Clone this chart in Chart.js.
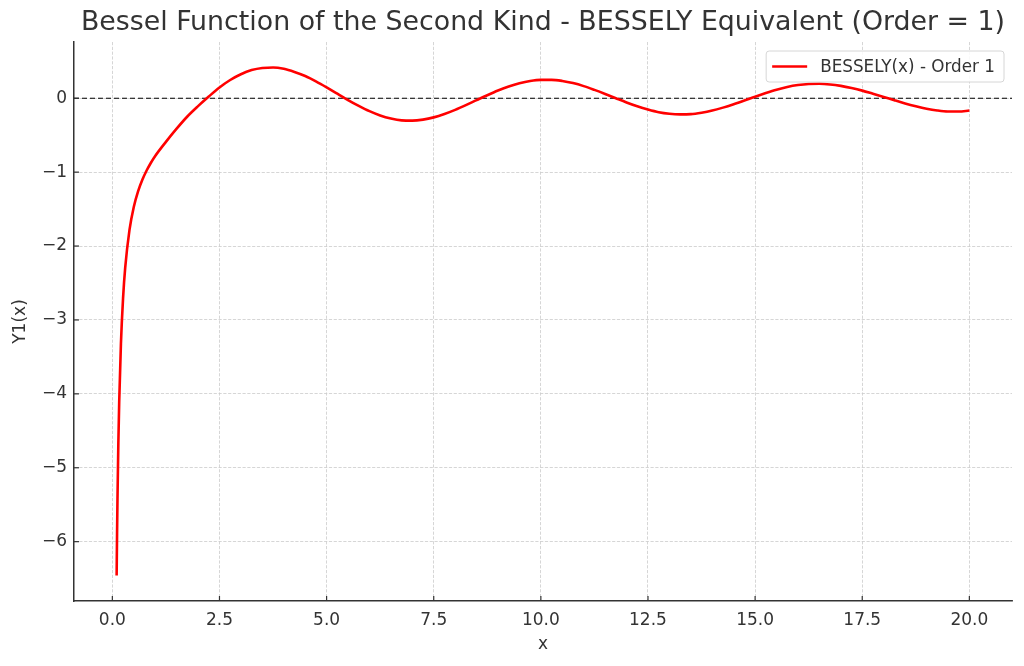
<!DOCTYPE html>
<html>
<head>
<meta charset="utf-8">
<script src="https://cdn.jsdelivr.net/npm/chart.js@4.4.1/dist/chart.umd.min.js"></script>
<style>
  html, body { margin: 0; padding: 0; background: #fff; }
  #wrap { width: 1024px; height: 666px; }
</style>
</head>
<body>
<div id="wrap"><canvas id="myChart"></canvas></div>
<script>
// values
const xValues = [0.1, 0.11, 0.12, 0.14, 0.16, 0.2, 0.25, 0.3, 0.4, 0.5, 0.6, 0.7, 0.8, 0.9, 1.0,
  1.25, 1.5, 1.75, 2.0, 2.25, 2.5, 2.75, 3.0, 3.25, 3.5, 3.75, 4.0, 4.25, 4.5, 4.75,
  5.0, 5.25, 5.5, 5.75, 6.0, 6.25, 6.5, 6.75, 7.0, 7.25, 7.5, 7.75, 8.0, 8.25, 8.5, 8.75,
  9.0, 9.25, 9.5, 9.75, 10.0, 10.25, 10.5, 10.75, 11.0, 11.25, 11.5, 11.75, 12.0, 12.25,
  12.5, 12.75, 13.0, 13.25, 13.5, 13.75, 14.0, 14.25, 14.5, 14.75, 15.0, 15.25, 15.5,
  15.75, 16.0, 16.25, 16.5, 16.75, 17.0, 17.25, 17.5, 17.75, 18.0, 18.25, 18.5, 18.75,
  19.0, 19.25, 19.5, 19.75, 20.0];
const y1Values = [-6.459, -5.889, -5.412, -4.666, -4.108, -3.324, -2.704, -2.293, -1.781, -1.471, -1.260, -1.103, -0.978, -0.873, -0.781,
  -0.590, -0.412, -0.247, -0.107, 0.023, 0.146, 0.247, 0.325, 0.381, 0.410, 0.416, 0.398, 0.356, 0.301, 0.229,
  0.148, 0.062, -0.024, -0.103, -0.175, -0.233, -0.274, -0.299, -0.303, -0.289, -0.259, -0.214, -0.158, -0.094, -0.026, 0.041,
  0.104, 0.159, 0.203, 0.234, 0.249, 0.249, 0.234, 0.205, 0.164, 0.113, 0.058, 0.000, -0.057, -0.109,
  -0.153, -0.189, -0.210, -0.218, -0.215, -0.196, -0.167, -0.127, -0.081, -0.031, 0.021, 0.070, 0.115,
  0.152, 0.178, 0.193, 0.196, 0.187, 0.167, 0.138, 0.103, 0.061, 0.018, -0.027, -0.070, -0.108,
  -0.141, -0.165, -0.179, -0.180, -0.166];
const xTicks = [0, 2.5, 5, 7.5, 10, 12.5, 15, 17.5, 20];
const yTicks = [-6, -5, -4, -3, -2, -1, 0];
const seriesLabel = 'BESSELY(x) - Order 1';
const titleText = 'Bessel Function of the Second Kind - BESSELY Equivalent (Order = 1)';

const FONT = "'DejaVu Sans', sans-serif";
const TEXT = '#333333';

// title, zero line, inward ticks and legend box drawn like matplotlib does
const extras = {
  id: 'extras',
  beforeDatasetsDraw(chart) {
    const { ctx, chartArea, scales } = chart;
    const y0 = scales.y.getPixelForValue(0);
    ctx.save();
    ctx.strokeStyle = '#000';
    ctx.lineWidth = 1.2;
    ctx.setLineDash([5, 3]);
    ctx.beginPath();
    ctx.moveTo(chartArea.left, y0);
    ctx.lineTo(chartArea.right, y0);
    ctx.stroke();
    ctx.restore();
  },
  afterDraw(chart) {
    const { ctx, chartArea, scales } = chart;
    ctx.save();
    // inward tick marks
    ctx.strokeStyle = TEXT;
    ctx.lineWidth = 1.2;
    xTicks.forEach(v => {
      const px = scales.x.getPixelForValue(v);
      ctx.beginPath();
      ctx.moveTo(px, chartArea.bottom);
      ctx.lineTo(px, chartArea.bottom - 5);
      ctx.stroke();
    });
    yTicks.forEach(v => {
      const py = scales.y.getPixelForValue(v);
      ctx.beginPath();
      ctx.moveTo(chartArea.left, py);
      ctx.lineTo(chartArea.left + 5, py);
      ctx.stroke();
    });
    // title
    ctx.fillStyle = TEXT;
    ctx.font = '26.8px ' + FONT;
    ctx.textAlign = 'center';
    ctx.textBaseline = 'middle';
    ctx.fillText(titleText, (chartArea.left + chartArea.right) / 2, 23);
    // legend
    ctx.font = '16.8px ' + FONT;
    const tw = ctx.measureText(seriesLabel).width;
    const bw = tw + 63, bh = 31;
    const bx = chartArea.right - 8 - bw, by = chartArea.top + 9;
    ctx.fillStyle = 'rgba(255,255,255,0.85)';
    ctx.strokeStyle = '#d6d6d6';
    ctx.lineWidth = 1;
    ctx.beginPath();
    ctx.roundRect(bx, by, bw, bh, 3);
    ctx.fill();
    ctx.stroke();
    ctx.strokeStyle = '#ff0000';
    ctx.lineWidth = 2.5;
    ctx.beginPath();
    ctx.moveTo(bx + 6, by + bh / 2);
    ctx.lineTo(bx + 41, by + bh / 2);
    ctx.stroke();
    ctx.fillStyle = TEXT;
    ctx.textAlign = 'left';
    ctx.fillText(seriesLabel, bx + 54, by + bh / 2 + 1);
    ctx.restore();
  }
};

const ctx = document.getElementById('myChart').getContext('2d');
const myChart = new Chart(ctx, {
  type: 'line',
  data: {
    datasets: [
      {
        label: seriesLabel,
        data: xValues.map((x, i) => ({ x: x, y: y1Values[i] })),
        fill: false,
        pointRadius: 0,
        borderColor: '#ff0000',
        borderWidth: 2.6,
        cubicInterpolationMode: 'monotone'
      }
    ]
  },
  options: {
    responsive: true,
    maintainAspectRatio: false,
    animation: false,
    layout: { padding: { top: 42, right: 12, left: 0, bottom: 0 } },
    plugins: {
      legend: { display: false },
      title: { display: false },
      tooltip: { enabled: false }
    },
    scales: {
      x: {
        type: 'linear',
        min: -0.895,
        max: 20.995,
        afterBuildTicks: axis => { axis.ticks = xTicks.map(v => ({ value: v })); },
        afterFit: axis => { axis.height = 65; },
        ticks: {
          color: TEXT,
          font: { family: FONT, size: 17 },
          padding: 9,
          callback: v => v.toFixed(1)
        },
        grid: { color: '#cccccc', lineWidth: 0.8, drawTicks: false },
        border: { display: true, color: TEXT, width: 1.5, dash: [3.2, 1.6] },
        title: {
          display: true, text: 'x', color: TEXT,
          font: { family: FONT, size: 17 }, padding: { top: 4, bottom: 11 }
        }
      },
      y: {
        type: 'linear',
        min: -6.803,
        max: 0.761,
        afterBuildTicks: axis => { axis.ticks = yTicks.map(v => ({ value: v })); },
        afterFit: axis => { axis.width = 74; },
        ticks: {
          color: TEXT,
          font: { family: FONT, size: 17 },
          padding: 7,
          callback: v => String(v).replace('-', '\u2212')
        },
        grid: { color: '#cccccc', lineWidth: 0.8, drawTicks: false },
        border: { display: true, color: TEXT, width: 1.5, dash: [3.2, 1.6] },
        title: {
          display: true, text: 'Y1(x)', color: TEXT,
          font: { family: FONT, size: 17 }, padding: { top: 10, bottom: 2 }
        }
      }
    }
  },
  plugins: [extras]
});
</script>
</body>
</html>
